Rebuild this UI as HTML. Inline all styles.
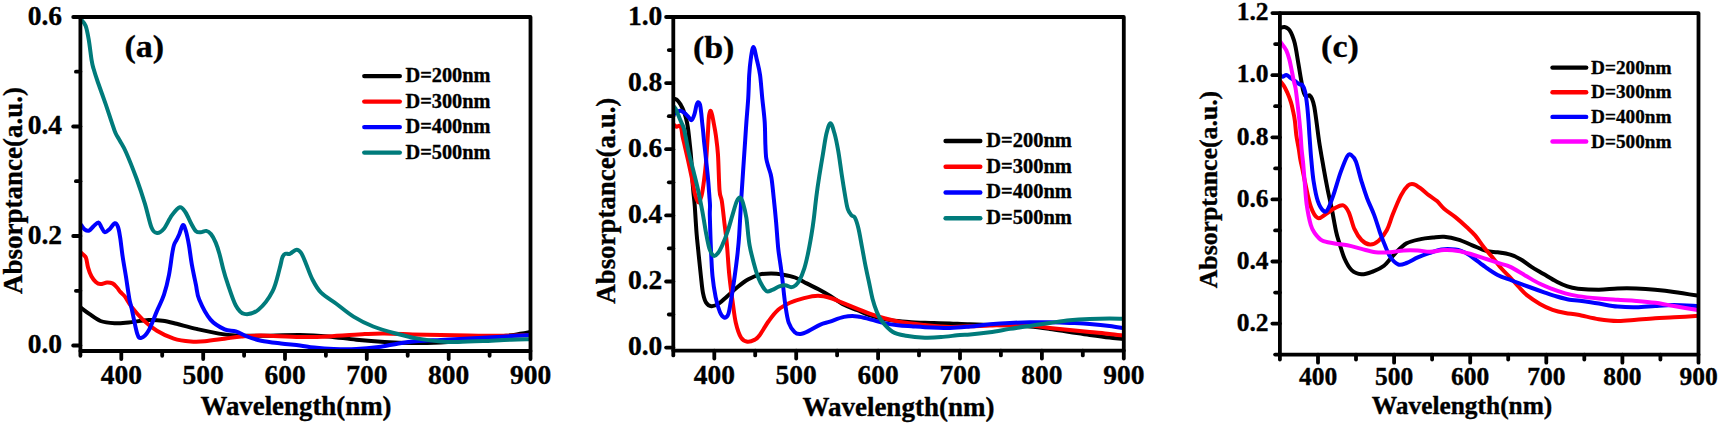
<!DOCTYPE html>
<html><head><meta charset="utf-8"><title>Absorptance spectra</title>
<style>html,body{margin:0;padding:0;background:#fff;}svg{display:block;}</style></head>
<body><svg width="1720" height="426" viewBox="0 0 1720 426">
<rect width="1720" height="426" fill="#fff"/>
<clipPath id="clipa"><rect x="80.4" y="17.0" width="450.1" height="334.0"/></clipPath>
<g clip-path="url(#clipa)" fill="none" stroke-width="4.0" stroke-linejoin="round" stroke-linecap="round">
<path d="M80.8,307.7C82.2,308.7 86.0,311.7 89.3,313.9C92.6,316.1 96.3,319.4 100.5,321.0C104.7,322.6 109.9,323.0 114.6,323.2C119.3,323.4 123.0,322.9 128.7,322.4C134.3,321.9 142.8,320.4 148.5,320.1C154.2,319.8 157.9,320.1 162.6,320.7C167.3,321.3 171.0,322.4 176.6,323.8C182.2,325.2 189.3,327.3 196.4,328.9C203.5,330.5 212.3,332.5 218.9,333.6C225.5,334.7 229.0,335.2 235.8,335.6C242.7,336.0 249.3,335.9 260.0,335.8C270.7,335.7 288.6,334.9 300.0,335.0C311.4,335.1 318.8,335.6 328.2,336.4C337.6,337.2 346.9,338.8 356.3,339.7C365.7,340.6 375.1,341.4 384.5,342.0C393.9,342.6 403.2,343.0 412.6,343.1C422.0,343.2 431.4,342.9 440.8,342.5C450.2,342.1 459.6,341.5 469.0,340.6C478.4,339.7 489.6,337.8 497.1,336.9C504.6,335.9 508.4,335.7 514.0,334.9C519.6,334.1 528.2,332.5 531.0,332.0" stroke="#000000"/>
<path d="M81.3,252.9C82.0,253.7 84.7,255.0 85.8,257.4C86.9,259.8 87.1,264.2 88.0,267.4C88.9,270.5 90.1,273.9 91.4,276.3C92.7,278.7 94.3,280.6 95.8,281.9C97.3,283.2 98.4,284.0 100.3,284.1C102.2,284.2 105.0,282.6 107.0,282.5C109.0,282.4 110.8,282.6 112.5,283.4C114.2,284.2 115.7,286.1 117.0,287.5C118.3,288.9 119.0,290.4 120.3,291.9C121.6,293.4 122.9,293.9 124.8,296.4C126.7,298.9 128.6,303.0 131.6,306.9C134.6,310.8 138.6,315.6 142.8,319.6C147.0,323.6 151.7,327.6 156.9,330.8C162.1,334.0 168.2,336.9 173.8,338.7C179.4,340.5 185.5,341.1 190.7,341.5C195.9,341.9 199.2,341.8 204.8,341.3C210.5,340.8 218.5,339.5 224.6,338.7C230.7,337.9 235.4,337.0 241.5,336.5C247.6,336.0 251.4,335.5 261.2,335.6C270.9,335.7 288.8,336.8 300.0,336.9C311.2,337.0 317.4,336.9 328.2,336.4C339.0,335.9 355.4,334.6 364.8,334.1C374.2,333.6 376.5,333.4 384.5,333.5C392.5,333.6 403.2,334.1 412.6,334.4C422.0,334.6 431.4,334.8 440.8,335.0C450.2,335.2 459.6,335.4 469.0,335.5C478.4,335.6 486.8,335.9 497.1,335.8C507.4,335.8 525.4,335.3 531.0,335.2" stroke="#ff0000"/>
<path d="M81.3,225.1C81.9,225.8 83.4,228.6 84.7,229.5C86.0,230.4 87.6,231.2 89.1,230.6C90.6,230.0 92.0,227.6 93.6,226.2C95.2,224.8 97.2,222.2 98.5,222.4C99.8,222.6 100.4,225.7 101.4,227.3C102.4,228.9 103.4,231.8 104.7,232.2C106.0,232.6 107.5,231.0 109.2,229.5C110.9,228.0 113.3,223.7 114.8,223.3C116.3,222.9 117.2,224.8 118.1,227.3C119.0,229.8 119.5,233.6 120.3,238.4C121.0,243.2 121.7,250.0 122.6,256.3C123.5,262.6 124.8,269.2 125.9,276.3C127.0,283.4 128.4,293.3 129.3,298.6C130.2,303.9 130.3,302.5 131.6,308.3C132.9,314.1 135.6,328.7 137.2,333.6C138.8,338.5 139.5,338.4 141.4,337.9C143.3,337.4 145.9,335.3 148.5,330.8C151.1,326.3 154.3,317.1 156.9,311.1C159.5,305.1 162.0,300.8 164.0,294.7C166.0,288.6 167.7,281.4 169.0,274.8C170.3,268.2 171.2,259.8 172.0,254.8C172.8,249.8 173.2,247.5 174.0,245.0C174.8,242.5 175.6,241.8 176.5,240.0C177.4,238.2 178.1,237.0 179.2,234.5C180.3,232.0 181.8,225.6 182.9,225.0C184.0,224.4 184.9,227.7 185.9,231.0C186.9,234.3 187.9,239.3 188.9,244.9C189.9,250.5 190.7,258.2 191.9,264.8C193.1,271.4 194.7,278.9 195.9,284.7C197.1,290.5 196.8,293.7 199.2,299.5C201.6,305.3 206.3,314.6 210.5,319.6C214.7,324.6 220.4,327.4 224.6,329.4C228.8,331.4 232.1,330.2 235.8,331.4C239.6,332.6 242.9,334.9 247.1,336.5C251.3,338.1 255.6,339.5 261.2,340.7C266.8,341.9 274.4,342.7 280.9,343.5C287.4,344.3 294.5,344.7 300.0,345.4C305.5,346.1 308.5,347.0 314.1,347.6C319.7,348.2 326.8,348.8 333.8,349.0C340.8,349.2 348.8,349.3 356.3,349.0C363.8,348.7 371.8,347.9 378.8,347.0C385.8,346.1 391.9,344.4 398.5,343.4C405.1,342.4 411.1,341.7 418.2,341.1C425.2,340.5 432.3,340.4 440.8,340.0C449.3,339.6 459.6,339.1 469.0,338.6C478.4,338.1 486.8,337.5 497.1,336.9C507.4,336.3 525.4,335.2 531.0,334.9" stroke="#0000ff"/>
<path d="M81.0,19.5C81.8,20.5 84.3,22.4 85.6,25.7C86.9,29.0 87.7,33.6 88.7,39.4C89.7,45.2 90.9,55.9 91.7,60.7C92.5,65.5 92.5,65.0 93.5,68.5C94.5,72.0 95.8,76.2 97.8,82.0C99.8,87.8 103.1,96.7 105.4,103.3C107.7,109.9 109.8,116.6 111.5,121.6C113.2,126.5 114.1,129.8 115.5,133.0C116.9,136.2 118.3,137.8 120.0,141.0C121.7,144.2 123.1,145.7 125.9,152.0C128.7,158.3 133.5,170.4 136.7,179.0C139.8,187.6 142.3,195.2 144.8,203.3C147.3,211.4 149.5,222.7 151.5,227.6C153.5,232.5 155.0,232.8 157.0,233.0C159.0,233.2 161.2,231.9 163.7,229.0C166.2,226.1 169.1,219.0 171.8,215.4C174.5,211.8 177.6,207.8 179.9,207.3C182.2,206.8 183.7,209.8 185.6,212.5C187.5,215.2 189.6,220.7 191.3,223.8C193.0,226.9 194.4,229.9 196.0,231.3C197.6,232.7 199.0,232.4 200.7,232.3C202.4,232.2 204.6,230.6 206.3,230.9C208.0,231.2 209.4,232.2 211.0,234.1C212.6,236.0 214.3,239.3 215.7,242.6C217.1,245.9 218.2,249.4 219.4,253.8C220.7,258.2 221.9,264.0 223.2,268.9C224.5,273.8 225.3,276.8 227.4,282.9C229.5,289.0 233.0,300.3 235.8,305.5C238.6,310.7 240.5,313.2 244.3,313.9C248.1,314.6 253.7,313.4 258.4,309.7C263.1,305.9 269.0,298.2 272.5,291.4C276.0,284.6 277.9,274.6 279.5,269.0C281.1,263.4 281.4,260.1 282.3,257.6C283.2,255.1 283.9,254.4 285.2,253.8C286.5,253.2 288.0,254.5 289.9,253.8C291.8,253.1 294.5,249.8 296.4,249.7C298.3,249.5 299.5,250.7 301.1,252.9C302.7,255.2 303.9,258.7 305.8,263.2C307.7,267.7 310.1,275.1 312.7,280.0C315.2,284.9 317.1,288.7 321.1,292.7C325.1,296.7 331.2,300.0 336.6,304.0C342.0,308.0 347.4,312.9 353.5,316.6C359.6,320.4 366.2,323.7 373.2,326.5C380.2,329.3 388.2,331.5 395.7,333.5C403.2,335.5 410.7,337.3 418.2,338.6C425.7,339.9 434.2,340.8 440.8,341.4C447.4,342.0 450.7,342.1 457.7,342.0C464.7,341.9 474.1,341.5 483.0,341.1C491.9,340.7 503.1,340.0 511.1,339.7C519.1,339.4 527.7,339.3 531.0,339.2" stroke="#007b7b"/>
</g>
<rect x="80.4" y="17.0" width="450.1" height="334.0" fill="none" stroke="#000" stroke-width="3.8" stroke-linejoin="round"/>
<g stroke="#000" stroke-width="3.8" stroke-linecap="round"><line x1="73.2" y1="345.5" x2="80.4" y2="345.5"/><line x1="75.9" y1="290.8" x2="80.4" y2="290.8"/><line x1="73.2" y1="236.0" x2="80.4" y2="236.0"/><line x1="75.9" y1="181.2" x2="80.4" y2="181.2"/><line x1="73.2" y1="126.5" x2="80.4" y2="126.5"/><line x1="75.9" y1="71.7" x2="80.4" y2="71.7"/><line x1="73.2" y1="17.0" x2="80.4" y2="17.0"/><line x1="80.4" y1="351.0" x2="80.4" y2="355.8"/><line x1="121.3" y1="351.0" x2="121.3" y2="359.0"/><line x1="162.2" y1="351.0" x2="162.2" y2="355.8"/><line x1="203.2" y1="351.0" x2="203.2" y2="359.0"/><line x1="244.1" y1="351.0" x2="244.1" y2="355.8"/><line x1="285.0" y1="351.0" x2="285.0" y2="359.0"/><line x1="325.9" y1="351.0" x2="325.9" y2="355.8"/><line x1="366.8" y1="351.0" x2="366.8" y2="359.0"/><line x1="407.7" y1="351.0" x2="407.7" y2="355.8"/><line x1="448.7" y1="351.0" x2="448.7" y2="359.0"/><line x1="489.6" y1="351.0" x2="489.6" y2="355.8"/><line x1="530.5" y1="351.0" x2="530.5" y2="359.0"/></g>
<text x="62.0" y="353.3" text-anchor="end" style="font-family:'Liberation Serif','Times New Roman',serif;font-weight:bold;stroke:#000;stroke-width:0.35px;font-size:27.5px">0.0</text>
<text x="62.0" y="243.8" text-anchor="end" style="font-family:'Liberation Serif','Times New Roman',serif;font-weight:bold;stroke:#000;stroke-width:0.35px;font-size:27.5px">0.2</text>
<text x="62.0" y="134.3" text-anchor="end" style="font-family:'Liberation Serif','Times New Roman',serif;font-weight:bold;stroke:#000;stroke-width:0.35px;font-size:27.5px">0.4</text>
<text x="62.0" y="24.8" text-anchor="end" style="font-family:'Liberation Serif','Times New Roman',serif;font-weight:bold;stroke:#000;stroke-width:0.35px;font-size:27.5px">0.6</text>
<text x="121.3" y="383.5" text-anchor="middle" style="font-family:'Liberation Serif','Times New Roman',serif;font-weight:bold;stroke:#000;stroke-width:0.35px;font-size:27.5px">400</text>
<text x="203.2" y="383.5" text-anchor="middle" style="font-family:'Liberation Serif','Times New Roman',serif;font-weight:bold;stroke:#000;stroke-width:0.35px;font-size:27.5px">500</text>
<text x="285.0" y="383.5" text-anchor="middle" style="font-family:'Liberation Serif','Times New Roman',serif;font-weight:bold;stroke:#000;stroke-width:0.35px;font-size:27.5px">600</text>
<text x="366.8" y="383.5" text-anchor="middle" style="font-family:'Liberation Serif','Times New Roman',serif;font-weight:bold;stroke:#000;stroke-width:0.35px;font-size:27.5px">700</text>
<text x="448.7" y="383.5" text-anchor="middle" style="font-family:'Liberation Serif','Times New Roman',serif;font-weight:bold;stroke:#000;stroke-width:0.35px;font-size:27.5px">800</text>
<text x="530.5" y="383.5" text-anchor="middle" style="font-family:'Liberation Serif','Times New Roman',serif;font-weight:bold;stroke:#000;stroke-width:0.35px;font-size:27.5px">900</text>
<text x="200.5" y="414.5" style="font-family:'Liberation Serif','Times New Roman',serif;font-weight:bold;stroke:#000;stroke-width:0.35px;font-size:27px" textLength="191" lengthAdjust="spacingAndGlyphs">Wavelength(nm)</text>
<text transform="translate(22.3,294.0) rotate(-90)" x="0" y="0" style="font-family:'Liberation Serif','Times New Roman',serif;font-weight:bold;stroke:#000;stroke-width:0.35px;font-size:27px" textLength="207" lengthAdjust="spacingAndGlyphs">Absorptance(a.u.)</text>
<text transform="translate(124.5,57.3) scale(1,0.92)" x="0" y="0" style="font-family:'Liberation Serif','Times New Roman',serif;font-weight:bold;stroke:#000;stroke-width:0.35px;font-size:34px">(a)</text>
<line x1="364.3" y1="76.1" x2="399.8" y2="76.1" stroke="#000000" stroke-width="4.4" stroke-linecap="round"/>
<text x="405.5" y="82.3" style="font-family:'Liberation Serif','Times New Roman',serif;font-weight:bold;stroke:#000;stroke-width:0.35px;font-size:20.5px" textLength="85" lengthAdjust="spacingAndGlyphs">D=200nm</text>
<line x1="364.3" y1="101.6" x2="399.8" y2="101.6" stroke="#ff0000" stroke-width="4.4" stroke-linecap="round"/>
<text x="405.5" y="107.8" style="font-family:'Liberation Serif','Times New Roman',serif;font-weight:bold;stroke:#000;stroke-width:0.35px;font-size:20.5px" textLength="85" lengthAdjust="spacingAndGlyphs">D=300nm</text>
<line x1="364.3" y1="127.1" x2="399.8" y2="127.1" stroke="#0000ff" stroke-width="4.4" stroke-linecap="round"/>
<text x="405.5" y="133.3" style="font-family:'Liberation Serif','Times New Roman',serif;font-weight:bold;stroke:#000;stroke-width:0.35px;font-size:20.5px" textLength="85" lengthAdjust="spacingAndGlyphs">D=400nm</text>
<line x1="364.3" y1="152.6" x2="399.8" y2="152.6" stroke="#007b7b" stroke-width="4.4" stroke-linecap="round"/>
<text x="405.5" y="158.8" style="font-family:'Liberation Serif','Times New Roman',serif;font-weight:bold;stroke:#000;stroke-width:0.35px;font-size:20.5px" textLength="85" lengthAdjust="spacingAndGlyphs">D=500nm</text>
<clipPath id="clipb"><rect x="673.3" y="17.0" width="450.5" height="333.6"/></clipPath>
<g clip-path="url(#clipb)" fill="none" stroke-width="4.0" stroke-linejoin="round" stroke-linecap="round">
<path d="M673.5,98.9C673.7,98.9 674.0,98.7 674.7,98.9C675.4,99.1 676.6,99.4 677.5,100.3C678.4,101.2 679.3,102.5 680.3,104.1C681.2,105.7 682.2,107.3 683.2,109.7C684.2,112.1 685.2,115.2 686.0,118.2C686.8,121.2 687.2,123.0 687.9,127.6C688.6,132.2 689.4,140.6 690.0,146.0C690.6,151.4 690.9,154.6 691.3,160.0C691.7,165.4 692.0,173.5 692.3,178.5C692.6,183.5 692.8,185.3 693.2,190.0C693.6,194.7 694.3,199.6 694.8,206.4C695.3,213.2 695.8,223.0 696.4,231.1C697.0,239.2 698.0,247.5 698.7,255.0C699.5,262.5 700.2,269.8 700.9,276.1C701.6,282.5 702.1,288.7 703.0,293.1C703.9,297.5 704.7,300.4 706.1,302.6C707.5,304.8 709.3,306.0 711.4,306.2C713.5,306.4 716.1,305.3 718.8,303.6C721.4,301.9 724.1,299.0 727.3,296.2C730.5,293.4 734.4,289.5 737.9,286.7C741.4,283.9 744.8,281.3 748.4,279.3C752.0,277.3 755.6,275.6 759.4,274.6C763.2,273.6 767.2,273.5 771.1,273.5C775.0,273.5 778.8,273.9 782.8,274.6C786.8,275.3 791.0,276.0 795.0,277.5C799.0,279.0 802.8,281.4 806.7,283.4C810.6,285.4 814.6,287.2 818.5,289.3C822.4,291.4 826.0,293.4 830.2,296.0C834.5,298.6 839.5,302.4 844.0,304.8C848.5,307.2 853.0,308.4 857.5,310.2C862.0,312.0 866.5,314.1 871.0,315.6C875.5,317.1 879.9,318.2 884.4,319.1C888.9,320.0 893.4,320.5 897.9,321.0C902.4,321.5 906.9,322.0 911.4,322.3C915.9,322.6 918.5,322.6 924.9,322.8C931.3,323.0 942.5,323.2 950.0,323.5C957.5,323.8 963.4,324.1 970.0,324.3C976.6,324.5 983.2,324.7 989.9,324.9C996.5,325.1 1003.2,325.2 1009.9,325.5C1016.5,325.8 1023.1,325.9 1029.8,326.5C1036.5,327.1 1043.1,328.0 1049.8,328.9C1056.5,329.8 1063.0,330.9 1069.7,331.9C1076.4,332.9 1083.1,334.0 1089.7,334.9C1096.3,335.8 1103.7,336.8 1109.6,337.5C1115.5,338.2 1122.4,338.9 1125.0,339.2" stroke="#000000"/>
<path d="M673.8,124.8C674.3,125.1 675.7,126.5 676.6,126.7C677.5,126.9 678.6,125.4 679.4,125.7C680.2,126.0 680.8,126.8 681.3,128.5C681.8,130.2 681.9,132.9 682.5,136.0C683.1,139.1 684.1,143.0 685.0,147.0C685.9,151.0 687.0,155.5 688.0,160.0C689.0,164.5 690.1,169.9 691.0,174.0C691.9,178.1 692.5,181.2 693.2,184.8C693.9,188.4 694.4,192.5 695.3,195.4C696.2,198.3 697.5,202.5 698.5,202.5C699.5,202.5 700.7,198.7 701.6,195.4C702.5,192.1 703.0,188.0 703.7,182.7C704.4,177.4 705.2,171.6 705.9,163.7C706.6,155.8 707.3,142.6 707.8,135.0C708.3,127.4 708.4,122.0 708.8,118.0C709.2,114.0 709.9,111.5 710.4,110.9C710.9,110.3 711.4,112.4 712.0,114.5C712.6,116.6 713.2,120.1 713.8,123.5C714.4,126.9 715.1,129.8 715.8,135.0C716.5,140.2 717.4,145.8 718.0,155.0C718.6,164.2 718.9,182.2 719.5,190.0C720.1,197.8 721.1,196.0 721.9,201.5C722.7,207.0 723.6,215.8 724.4,222.9C725.2,230.0 726.1,235.3 726.9,244.2C727.7,253.1 728.4,266.6 729.4,276.1C730.4,285.7 731.5,293.7 732.6,301.5C733.7,309.3 734.4,316.7 735.8,322.7C737.2,328.7 739.1,334.3 741.0,337.5C742.9,340.7 745.1,341.3 747.4,341.7C749.7,342.1 753.0,340.6 755.0,339.6C757.0,338.6 757.1,338.6 759.4,335.5C761.7,332.4 765.7,325.3 768.8,321.0C771.9,316.7 774.7,312.8 778.2,309.8C781.7,306.8 785.6,304.8 789.9,302.8C794.2,300.9 799.3,299.3 804.0,298.1C808.7,296.9 813.6,295.7 818.0,295.7C822.4,295.7 826.2,296.7 830.5,298.0C834.8,299.3 839.5,301.6 844.0,303.4C848.5,305.2 853.0,307.0 857.5,308.8C862.0,310.6 866.5,312.6 871.0,314.2C875.5,315.8 879.9,317.1 884.4,318.3C888.9,319.5 893.4,320.6 897.9,321.5C902.4,322.4 906.9,323.0 911.4,323.6C915.9,324.2 918.5,324.4 924.9,325.0C931.3,325.6 942.5,326.7 950.0,326.9C957.5,327.1 963.4,326.5 970.0,326.3C976.6,326.1 983.2,325.7 989.9,325.5C996.5,325.3 1003.2,324.9 1009.9,324.9C1016.5,324.9 1023.1,325.0 1029.8,325.5C1036.5,326.0 1043.1,327.2 1049.8,327.9C1056.5,328.6 1063.0,329.2 1069.7,329.9C1076.4,330.6 1083.1,331.2 1089.7,331.9C1096.3,332.6 1103.7,333.2 1109.6,333.9C1115.5,334.5 1122.4,335.5 1125.0,335.8" stroke="#ff0000"/>
<path d="M673.8,114.4C674.3,114.0 675.9,112.7 677.0,112.1C678.1,111.5 679.1,110.6 680.3,110.7C681.5,110.8 682.7,111.5 684.1,112.6C685.5,113.7 687.5,116.0 688.8,117.3C690.0,118.5 690.7,120.6 691.6,120.1C692.5,119.6 693.6,116.8 694.4,114.4C695.2,112.1 695.7,108.0 696.3,106.0C696.9,104.0 697.6,102.4 698.2,102.2C698.8,102.0 699.6,103.1 700.1,105.0C700.6,106.9 700.9,110.5 701.3,113.5C701.6,116.5 701.9,120.2 702.2,122.9C702.5,125.7 702.7,127.2 703.0,130.0C703.3,132.8 703.6,136.7 703.9,140.0C704.2,143.3 704.6,146.5 705.0,150.0C705.4,153.5 705.7,156.2 706.2,161.0C706.7,165.8 707.5,172.8 708.0,178.5C708.5,184.2 709.0,190.6 709.3,195.0C709.6,199.4 709.9,201.7 710.0,205.0C710.1,208.3 709.7,210.0 709.8,215.0C709.9,220.0 710.2,228.3 710.4,235.0C710.6,241.7 710.9,248.2 711.2,255.0C711.6,261.9 711.8,269.1 712.5,276.1C713.2,283.2 714.5,291.3 715.7,297.3C716.9,303.3 718.5,308.7 719.9,312.1C721.3,315.5 722.7,317.1 724.1,317.5C725.5,317.9 727.1,317.6 728.3,314.2C729.5,310.8 730.4,303.6 731.5,297.3C732.6,291.0 733.7,283.2 734.7,276.1C735.7,269.1 736.6,261.9 737.4,255.0C738.1,248.2 738.6,244.2 739.2,235.0C739.8,225.8 740.5,211.1 741.2,199.9C741.9,188.7 742.6,178.0 743.3,168.0C744.0,158.0 744.7,147.7 745.2,140.0C745.7,132.3 745.9,128.9 746.4,122.0C746.9,115.1 747.7,106.4 748.2,98.6C748.7,90.8 748.8,81.8 749.2,75.2C749.6,68.6 750.1,63.4 750.8,58.7C751.5,54.0 752.4,47.0 753.4,47.0C754.4,47.0 755.5,54.0 756.6,58.7C757.7,63.4 759.2,68.6 760.1,75.2C761.0,81.8 761.5,90.8 762.3,98.6C763.1,106.4 764.2,114.3 764.7,122.0C765.2,129.7 765.1,139.0 765.4,145.0C765.6,151.0 765.7,154.2 766.2,158.0C766.7,161.8 767.7,164.2 768.6,167.5C769.5,170.8 770.5,172.4 771.4,177.6C772.3,182.8 773.0,191.3 773.8,198.7C774.6,206.1 775.5,215.3 776.1,222.2C776.7,229.1 777.1,235.1 777.5,240.0C777.9,244.9 777.9,246.1 778.6,251.7C779.3,257.3 780.6,264.8 781.7,273.5C782.8,282.2 784.0,295.8 785.2,304.0C786.4,312.2 787.1,318.0 788.7,322.7C790.3,327.4 792.7,330.2 794.6,332.1C796.5,334.0 798.0,334.2 800.4,334.0C802.8,333.8 805.4,332.5 808.7,330.9C812.0,329.3 816.9,326.2 820.4,324.6C823.9,323.1 826.1,322.9 830.0,321.6C833.9,320.3 839.4,317.8 844.0,316.9C848.6,316.0 853.0,315.9 857.5,316.4C862.0,316.8 866.5,318.5 871.0,319.6C875.5,320.7 879.9,322.2 884.4,323.1C888.9,324.1 893.4,324.8 897.9,325.3C902.4,325.8 906.9,326.0 911.4,326.3C915.9,326.6 918.5,326.9 924.9,327.2C931.3,327.5 942.5,328.0 950.0,327.9C957.5,327.8 963.4,327.1 970.0,326.5C976.6,325.9 983.2,324.9 989.9,324.3C996.5,323.7 1003.2,323.2 1009.9,322.9C1016.5,322.6 1023.1,322.4 1029.8,322.3C1036.5,322.2 1043.1,322.2 1049.8,322.3C1056.5,322.4 1063.0,322.6 1069.7,322.9C1076.4,323.2 1083.1,323.4 1089.7,323.9C1096.3,324.4 1103.7,325.1 1109.6,325.9C1115.5,326.7 1122.4,328.1 1125.0,328.5" stroke="#0000ff"/>
<path d="M673.8,106.4C674.1,106.8 674.9,107.5 675.6,108.8C676.3,110.1 677.2,112.5 678.0,114.4C678.8,116.3 679.4,117.9 680.3,120.1C681.2,122.3 682.7,124.8 683.6,127.5C684.5,130.2 684.7,132.2 685.6,136.5C686.5,140.8 687.6,147.5 688.9,153.1C690.2,158.7 691.8,164.3 693.2,170.0C694.6,175.7 696.0,180.9 697.4,187.0C698.8,193.1 700.3,201.0 701.4,206.4C702.5,211.8 703.0,214.9 703.8,219.6C704.6,224.3 705.3,229.5 706.3,234.4C707.3,239.3 708.4,245.6 709.6,249.2C710.8,252.8 712.3,255.1 713.7,255.8C715.1,256.5 716.3,255.2 717.8,253.3C719.3,251.4 721.1,247.9 722.7,244.2C724.4,240.5 726.1,236.0 727.7,231.1C729.4,226.2 731.1,219.6 732.6,214.7C734.1,209.8 735.4,204.3 736.7,201.5C738.0,198.7 739.2,197.3 740.2,197.6C741.2,197.8 742.0,199.6 743.0,203.0C744.0,206.4 745.3,210.9 746.4,218.0C747.5,225.1 748.0,236.5 749.6,245.3C751.2,254.1 754.1,264.4 755.9,270.7C757.7,276.9 758.9,279.4 760.6,282.8C762.4,286.2 764.5,289.9 766.4,291.1C768.3,292.3 770.1,290.7 772.3,289.9C774.4,289.1 777.1,287.2 779.3,286.4C781.4,285.6 783.2,285.1 785.2,285.2C787.2,285.3 789.4,287.2 791.1,287.2C792.9,287.2 794.3,286.4 795.7,285.2C797.1,284.0 798.2,282.8 799.7,279.9C801.2,277.0 803.0,272.4 804.4,268.1C805.8,263.8 806.7,259.5 807.9,254.0C809.1,248.5 810.4,241.1 811.4,235.2C812.4,229.3 813.0,225.2 813.8,218.8C814.6,212.4 815.4,204.1 816.3,197.0C817.2,189.9 818.2,183.0 819.3,176.0C820.4,169.0 821.6,161.9 822.8,154.9C824.0,147.9 825.1,139.1 826.4,133.8C827.7,128.5 829.0,123.2 830.4,123.2C831.8,123.2 833.3,129.3 834.6,133.8C835.9,138.3 836.9,143.5 838.1,150.2C839.3,156.8 840.4,165.7 841.6,173.7C842.8,181.7 844.5,192.1 845.5,198.0C846.5,203.9 846.9,206.5 847.9,209.4C848.9,212.3 850.2,213.9 851.4,215.3C852.6,216.7 853.7,215.4 854.9,217.6C856.1,219.8 857.2,223.3 858.4,228.2C859.6,233.1 860.8,240.7 862.0,247.0C863.2,253.3 864.3,259.9 865.5,265.8C866.7,271.7 867.8,276.7 869.0,282.2C870.2,287.7 871.2,293.9 872.5,298.7C873.8,303.5 875.0,307.3 876.5,311.0C878.0,314.7 879.0,317.6 881.7,321.0C884.4,324.4 888.5,329.2 892.5,331.7C896.5,334.2 900.6,334.8 906.0,335.8C911.4,336.8 919.0,337.5 924.9,337.7C930.8,337.9 935.2,337.6 941.1,337.1C947.0,336.7 955.2,335.4 960.0,335.0C964.8,334.6 965.0,334.9 970.0,334.5C975.0,334.1 983.2,333.2 989.9,332.3C996.5,331.4 1003.2,330.0 1009.9,328.9C1016.5,327.8 1023.1,326.9 1029.8,325.9C1036.5,324.9 1043.1,323.8 1049.8,322.9C1056.5,322.0 1063.0,321.0 1069.7,320.3C1076.4,319.6 1083.1,319.2 1089.7,318.9C1096.3,318.6 1103.7,318.5 1109.6,318.5C1115.5,318.5 1122.4,318.8 1125.0,318.9" stroke="#007b7b"/>
</g>
<rect x="673.3" y="17.0" width="450.5" height="333.6" fill="none" stroke="#000" stroke-width="3.8" stroke-linejoin="round"/>
<g stroke="#000" stroke-width="3.8" stroke-linecap="round"><line x1="666.1" y1="347.6" x2="673.3" y2="347.6"/><line x1="668.8" y1="314.5" x2="673.3" y2="314.5"/><line x1="666.1" y1="281.5" x2="673.3" y2="281.5"/><line x1="668.8" y1="248.4" x2="673.3" y2="248.4"/><line x1="666.1" y1="215.4" x2="673.3" y2="215.4"/><line x1="668.8" y1="182.3" x2="673.3" y2="182.3"/><line x1="666.1" y1="149.2" x2="673.3" y2="149.2"/><line x1="668.8" y1="116.2" x2="673.3" y2="116.2"/><line x1="666.1" y1="83.1" x2="673.3" y2="83.1"/><line x1="668.8" y1="50.1" x2="673.3" y2="50.1"/><line x1="666.1" y1="17.0" x2="673.3" y2="17.0"/><line x1="673.3" y1="350.6" x2="673.3" y2="355.4"/><line x1="714.3" y1="350.6" x2="714.3" y2="358.6"/><line x1="755.2" y1="350.6" x2="755.2" y2="355.4"/><line x1="796.2" y1="350.6" x2="796.2" y2="358.6"/><line x1="837.1" y1="350.6" x2="837.1" y2="355.4"/><line x1="878.1" y1="350.6" x2="878.1" y2="358.6"/><line x1="919.0" y1="350.6" x2="919.0" y2="355.4"/><line x1="960.0" y1="350.6" x2="960.0" y2="358.6"/><line x1="1000.9" y1="350.6" x2="1000.9" y2="355.4"/><line x1="1041.9" y1="350.6" x2="1041.9" y2="358.6"/><line x1="1082.8" y1="350.6" x2="1082.8" y2="355.4"/><line x1="1123.8" y1="350.6" x2="1123.8" y2="358.6"/></g>
<text x="662.3" y="355.3" text-anchor="end" style="font-family:'Liberation Serif','Times New Roman',serif;font-weight:bold;stroke:#000;stroke-width:0.35px;font-size:27.5px">0.0</text>
<text x="662.3" y="289.2" text-anchor="end" style="font-family:'Liberation Serif','Times New Roman',serif;font-weight:bold;stroke:#000;stroke-width:0.35px;font-size:27.5px">0.2</text>
<text x="662.3" y="223.1" text-anchor="end" style="font-family:'Liberation Serif','Times New Roman',serif;font-weight:bold;stroke:#000;stroke-width:0.35px;font-size:27.5px">0.4</text>
<text x="662.3" y="156.9" text-anchor="end" style="font-family:'Liberation Serif','Times New Roman',serif;font-weight:bold;stroke:#000;stroke-width:0.35px;font-size:27.5px">0.6</text>
<text x="662.3" y="90.8" text-anchor="end" style="font-family:'Liberation Serif','Times New Roman',serif;font-weight:bold;stroke:#000;stroke-width:0.35px;font-size:27.5px">0.8</text>
<text x="662.3" y="24.7" text-anchor="end" style="font-family:'Liberation Serif','Times New Roman',serif;font-weight:bold;stroke:#000;stroke-width:0.35px;font-size:27.5px">1.0</text>
<text x="714.3" y="383.5" text-anchor="middle" style="font-family:'Liberation Serif','Times New Roman',serif;font-weight:bold;stroke:#000;stroke-width:0.35px;font-size:27.5px">400</text>
<text x="796.2" y="383.5" text-anchor="middle" style="font-family:'Liberation Serif','Times New Roman',serif;font-weight:bold;stroke:#000;stroke-width:0.35px;font-size:27.5px">500</text>
<text x="878.1" y="383.5" text-anchor="middle" style="font-family:'Liberation Serif','Times New Roman',serif;font-weight:bold;stroke:#000;stroke-width:0.35px;font-size:27.5px">600</text>
<text x="960.0" y="383.5" text-anchor="middle" style="font-family:'Liberation Serif','Times New Roman',serif;font-weight:bold;stroke:#000;stroke-width:0.35px;font-size:27.5px">700</text>
<text x="1041.9" y="383.5" text-anchor="middle" style="font-family:'Liberation Serif','Times New Roman',serif;font-weight:bold;stroke:#000;stroke-width:0.35px;font-size:27.5px">800</text>
<text x="1123.8" y="383.5" text-anchor="middle" style="font-family:'Liberation Serif','Times New Roman',serif;font-weight:bold;stroke:#000;stroke-width:0.35px;font-size:27.5px">900</text>
<text x="802.4" y="415.8" style="font-family:'Liberation Serif','Times New Roman',serif;font-weight:bold;stroke:#000;stroke-width:0.35px;font-size:27px" textLength="192" lengthAdjust="spacingAndGlyphs">Wavelength(nm)</text>
<text transform="translate(615.4,303.7) rotate(-90)" x="0" y="0" style="font-family:'Liberation Serif','Times New Roman',serif;font-weight:bold;stroke:#000;stroke-width:0.35px;font-size:27px" textLength="206" lengthAdjust="spacingAndGlyphs">Absorptance(a.u.)</text>
<text transform="translate(692.9,58.2) scale(1,0.92)" x="0" y="0" style="font-family:'Liberation Serif','Times New Roman',serif;font-weight:bold;stroke:#000;stroke-width:0.35px;font-size:34px">(b)</text>
<line x1="945.6" y1="141.0" x2="980.3" y2="141.0" stroke="#000000" stroke-width="4.4" stroke-linecap="round"/>
<text x="986.3" y="146.9" style="font-family:'Liberation Serif','Times New Roman',serif;font-weight:bold;stroke:#000;stroke-width:0.35px;font-size:20.5px" textLength="85.5" lengthAdjust="spacingAndGlyphs">D=200nm</text>
<line x1="945.6" y1="166.7" x2="980.3" y2="166.7" stroke="#ff0000" stroke-width="4.4" stroke-linecap="round"/>
<text x="986.3" y="172.6" style="font-family:'Liberation Serif','Times New Roman',serif;font-weight:bold;stroke:#000;stroke-width:0.35px;font-size:20.5px" textLength="85.5" lengthAdjust="spacingAndGlyphs">D=300nm</text>
<line x1="945.6" y1="192.5" x2="980.3" y2="192.5" stroke="#0000ff" stroke-width="4.4" stroke-linecap="round"/>
<text x="986.3" y="198.4" style="font-family:'Liberation Serif','Times New Roman',serif;font-weight:bold;stroke:#000;stroke-width:0.35px;font-size:20.5px" textLength="85.5" lengthAdjust="spacingAndGlyphs">D=400nm</text>
<line x1="945.6" y1="218.2" x2="980.3" y2="218.2" stroke="#007b7b" stroke-width="4.4" stroke-linecap="round"/>
<text x="986.3" y="224.1" style="font-family:'Liberation Serif','Times New Roman',serif;font-weight:bold;stroke:#000;stroke-width:0.35px;font-size:20.5px" textLength="85.5" lengthAdjust="spacingAndGlyphs">D=500nm</text>
<clipPath id="clipc"><rect x="1279.9" y="13.1" width="418.5999999999999" height="341.59999999999997"/></clipPath>
<g clip-path="url(#clipc)" fill="none" stroke-width="4.0" stroke-linejoin="round" stroke-linecap="round">
<path d="M1279.5,28.5C1279.8,28.4 1280.2,27.9 1281.0,27.7C1281.8,27.4 1283.3,26.8 1284.5,27.0C1285.7,27.2 1287.1,27.9 1288.2,28.8C1289.3,29.7 1290.0,30.7 1291.0,32.6C1292.0,34.5 1293.1,37.6 1293.9,40.1C1294.7,42.6 1295.1,44.5 1295.7,47.6C1296.3,50.7 1297.0,55.1 1297.6,58.9C1298.2,62.7 1298.9,66.5 1299.5,70.2C1300.1,74.0 1300.8,78.1 1301.4,81.4C1302.0,84.7 1302.4,87.7 1303.0,90.0C1303.6,92.3 1304.2,94.5 1305.0,95.5C1305.8,96.5 1306.7,96.0 1307.5,96.0C1308.3,96.0 1308.8,95.0 1309.6,95.4C1310.3,95.9 1311.2,96.8 1312.0,98.7C1312.8,100.6 1313.5,102.8 1314.3,106.9C1315.1,111.0 1315.9,117.5 1316.7,123.3C1317.5,129.2 1318.1,134.7 1319.2,142.0C1320.3,149.3 1322.1,159.3 1323.5,167.3C1324.9,175.3 1326.3,182.8 1327.7,189.8C1329.1,196.8 1330.5,202.5 1331.9,209.5C1333.3,216.5 1335.0,226.6 1336.2,232.0C1337.4,237.4 1337.6,237.4 1339.0,241.9C1340.4,246.4 1342.5,254.1 1344.6,258.8C1346.7,263.5 1348.8,267.5 1351.6,270.1C1354.4,272.7 1358.0,274.1 1361.5,274.3C1365.0,274.5 1369.0,272.9 1372.8,271.5C1376.5,270.1 1380.2,268.9 1384.0,265.8C1387.8,262.8 1391.5,256.9 1395.3,253.2C1399.1,249.4 1402.4,245.7 1406.6,243.3C1410.8,241.0 1416.3,240.1 1420.7,239.1C1425.1,238.1 1429.1,237.9 1433.0,237.5C1436.9,237.1 1439.9,236.5 1444.1,236.8C1448.3,237.2 1453.5,238.2 1458.2,239.6C1462.9,241.0 1467.6,243.4 1472.3,245.3C1477.0,247.2 1482.1,249.7 1486.3,250.9C1490.5,252.1 1493.6,251.7 1497.6,252.3C1501.6,252.9 1506.4,253.5 1510.3,254.7C1514.2,255.9 1517.4,257.5 1520.9,259.5C1524.4,261.5 1527.6,264.4 1531.5,266.9C1535.4,269.4 1539.9,271.8 1544.1,274.3C1548.3,276.8 1552.9,279.7 1556.8,281.7C1560.7,283.7 1563.9,285.2 1567.4,286.4C1570.9,287.6 1572.8,288.1 1578.0,288.7C1583.2,289.2 1592.2,289.7 1598.8,289.7C1605.4,289.7 1611.3,288.7 1617.6,288.5C1623.8,288.3 1630.0,288.3 1636.3,288.5C1642.5,288.7 1648.8,289.1 1655.1,289.7C1661.4,290.3 1666.4,290.8 1673.9,291.9C1681.4,292.9 1695.7,295.3 1700.0,296.0" stroke="#000000"/>
<path d="M1279.8,80.5C1280.5,81.4 1282.6,83.8 1283.9,85.8C1285.2,87.8 1286.2,90.1 1287.4,92.8C1288.6,95.5 1289.9,99.1 1290.9,102.2C1291.9,105.3 1292.5,108.5 1293.2,111.6C1293.9,114.7 1294.4,117.0 1294.9,120.9C1295.4,124.8 1295.7,130.3 1296.3,135.0C1296.9,139.7 1298.1,145.0 1298.8,149.1C1299.5,153.2 1299.7,156.2 1300.4,159.8C1301.1,163.5 1302.0,167.1 1302.8,171.0C1303.6,174.9 1303.9,177.1 1305.2,183.0C1306.5,188.9 1308.7,200.9 1310.8,206.7C1312.9,212.5 1315.2,216.8 1317.8,218.0C1320.4,219.2 1323.5,215.3 1326.3,213.7C1329.1,212.0 1331.9,209.5 1334.7,208.1C1337.5,206.7 1340.9,204.6 1343.2,205.3C1345.5,206.0 1346.9,208.3 1348.8,212.3C1350.7,216.3 1352.4,224.6 1354.5,229.2C1356.6,233.8 1358.9,237.4 1361.5,240.0C1364.1,242.6 1367.2,244.3 1370.0,244.5C1372.8,244.7 1375.6,243.4 1378.4,241.0C1381.2,238.6 1384.6,234.3 1386.9,230.0C1389.2,225.7 1390.2,220.9 1392.5,215.1C1394.8,209.3 1398.4,200.3 1401.0,195.4C1403.6,190.5 1405.9,187.5 1408.0,185.6C1410.1,183.7 1411.5,183.7 1413.6,184.2C1415.7,184.7 1418.1,186.5 1420.7,188.4C1423.3,190.3 1426.4,193.3 1429.1,195.4C1431.8,197.5 1434.5,198.9 1437.0,201.1C1439.5,203.3 1441.0,206.0 1444.1,208.7C1447.2,211.4 1451.7,214.0 1455.4,217.1C1459.2,220.2 1463.3,223.9 1466.6,227.0C1469.9,230.1 1472.3,232.1 1475.1,235.4C1477.9,238.7 1480.5,242.8 1483.5,246.7C1486.5,250.5 1490.3,254.8 1493.4,258.5C1496.5,262.2 1499.1,265.8 1501.9,269.0C1504.7,272.2 1507.5,274.5 1510.3,277.5C1513.1,280.5 1516.0,284.0 1518.8,287.0C1521.6,290.0 1523.7,292.6 1527.2,295.4C1530.7,298.2 1535.7,301.5 1539.9,303.9C1544.1,306.3 1548.4,308.3 1552.6,309.8C1556.8,311.3 1561.1,312.2 1565.3,313.0C1569.5,313.8 1572.4,313.8 1578.0,314.8C1583.6,315.8 1592.2,318.2 1598.8,319.2C1605.4,320.2 1611.3,320.9 1617.6,321.0C1623.8,321.1 1630.0,320.2 1636.3,319.7C1642.5,319.2 1648.8,318.6 1655.1,318.2C1661.4,317.8 1666.4,317.7 1673.9,317.3C1681.4,316.9 1695.7,316.1 1700.0,315.8" stroke="#ff0000"/>
<path d="M1279.8,74.5C1280.3,74.9 1281.5,76.6 1282.6,76.7C1283.7,76.8 1285.0,74.9 1286.3,75.0C1287.5,75.1 1288.7,76.5 1290.1,77.5C1291.5,78.5 1293.2,79.9 1294.8,81.0C1296.4,82.1 1298.2,83.6 1299.5,84.3C1300.8,85.0 1301.6,84.0 1302.5,85.2C1303.4,86.4 1304.4,89.2 1305.0,91.2C1305.6,93.2 1305.7,94.9 1306.1,97.5C1306.5,100.1 1306.9,103.0 1307.3,106.9C1307.7,110.8 1308.1,115.8 1308.5,120.9C1308.9,126.0 1309.1,130.8 1309.6,137.3C1310.1,143.8 1310.6,152.5 1311.3,159.8C1312.0,167.1 1312.5,174.4 1313.6,181.3C1314.7,188.2 1316.1,196.2 1317.8,201.1C1319.5,206.0 1321.8,209.5 1323.5,210.9C1325.2,212.3 1326.1,212.1 1327.7,209.5C1329.3,206.9 1331.2,201.5 1333.3,195.4C1335.4,189.3 1338.1,179.5 1340.4,172.9C1342.8,166.3 1345.5,158.9 1347.4,156.0C1349.3,153.1 1350.2,154.5 1351.6,155.4C1353.0,156.3 1354.2,157.3 1355.9,161.6C1357.6,165.9 1359.6,175.2 1361.5,181.3C1363.4,187.4 1365.0,192.6 1367.1,198.2C1369.2,203.8 1372.1,209.5 1374.2,215.1C1376.3,220.7 1378.2,227.3 1379.8,232.0C1381.4,236.7 1382.3,239.0 1384.0,243.0C1385.7,247.0 1387.4,252.4 1389.7,256.0C1392.0,259.6 1395.3,263.2 1398.1,264.4C1400.9,265.6 1403.3,264.2 1406.6,263.0C1409.9,261.8 1414.0,259.0 1417.8,257.4C1421.5,255.8 1425.2,254.5 1429.1,253.2C1433.0,251.9 1436.9,250.1 1441.3,249.5C1445.7,248.9 1452.0,249.2 1455.4,249.5C1458.8,249.8 1459.4,250.2 1461.7,251.1C1464.0,252.0 1465.7,252.6 1469.4,255.1C1473.1,257.6 1479.3,262.7 1484.0,266.0C1488.7,269.3 1493.0,272.5 1497.6,274.9C1502.2,277.3 1506.4,278.5 1511.7,280.5C1517.0,282.5 1523.9,285.0 1529.3,287.0C1534.7,289.0 1539.5,290.7 1544.1,292.3C1548.7,293.9 1552.6,295.3 1556.8,296.5C1561.0,297.7 1565.6,299.0 1569.5,299.7C1573.4,300.4 1575.1,300.1 1580.0,300.8C1584.9,301.5 1592.5,302.6 1598.8,303.6C1605.1,304.6 1611.3,306.0 1617.6,306.6C1623.8,307.2 1630.0,307.4 1636.3,307.3C1642.5,307.2 1648.8,306.4 1655.1,306.0C1661.4,305.6 1666.4,305.1 1673.9,305.1C1681.4,305.1 1695.7,305.9 1700.0,306.0" stroke="#0000ff"/>
<path d="M1279.8,41.0C1280.3,41.6 1281.5,43.2 1282.6,44.8C1283.7,46.4 1285.2,48.0 1286.3,50.4C1287.4,52.8 1288.2,55.3 1289.2,58.9C1290.2,62.5 1291.2,68.2 1292.0,72.0C1292.8,75.8 1293.3,78.7 1293.9,81.4C1294.5,84.2 1294.9,84.2 1295.6,88.5C1296.3,92.8 1297.1,99.9 1297.9,106.9C1298.7,113.9 1299.7,123.3 1300.3,130.3C1300.9,137.3 1301.1,143.5 1301.6,149.1C1302.1,154.7 1302.7,158.5 1303.2,164.0C1303.7,169.5 1304.1,175.3 1304.7,182.0C1305.3,188.7 1305.6,196.7 1306.6,203.9C1307.6,211.1 1309.4,220.1 1310.8,225.0C1312.2,229.9 1313.1,230.9 1315.0,233.5C1316.9,236.1 1319.0,238.9 1322.1,240.5C1325.1,242.1 1329.1,242.5 1333.3,243.3C1337.5,244.1 1342.7,244.4 1347.4,245.3C1352.1,246.2 1356.8,247.7 1361.5,248.9C1366.2,250.1 1370.9,251.7 1375.6,252.3C1380.3,252.9 1385.0,252.6 1389.7,252.3C1394.4,252.0 1399.1,250.7 1403.8,250.4C1408.5,250.1 1413.4,250.2 1417.8,250.4C1422.2,250.6 1425.6,251.9 1430.0,251.8C1434.4,251.8 1439.4,250.2 1444.1,250.1C1448.8,249.9 1453.5,250.2 1458.2,250.9C1462.9,251.6 1467.6,253.2 1472.3,254.5C1477.0,255.8 1481.6,257.5 1486.3,259.0C1491.0,260.5 1496.4,262.3 1500.4,263.6C1504.4,264.9 1506.2,264.9 1510.3,266.9C1514.4,268.9 1520.2,272.6 1525.1,275.4C1530.0,278.2 1535.3,281.5 1539.9,283.8C1544.5,286.1 1548.4,287.5 1552.6,289.1C1556.8,290.7 1561.1,292.1 1565.3,293.3C1569.5,294.5 1572.4,295.2 1578.0,296.1C1583.6,297.0 1592.2,297.9 1598.8,298.5C1605.4,299.1 1611.3,299.4 1617.6,299.8C1623.8,300.2 1630.0,300.4 1636.3,300.9C1642.5,301.4 1648.8,301.9 1655.1,302.8C1661.4,303.7 1666.4,304.7 1673.9,306.0C1681.4,307.3 1695.7,309.8 1700.0,310.5" stroke="#ff00ff"/>
</g>
<rect x="1279.9" y="13.1" width="418.5999999999999" height="341.59999999999997" fill="none" stroke="#000" stroke-width="3.8" stroke-linejoin="round"/>
<g stroke="#000" stroke-width="3.8" stroke-linecap="round"><line x1="1275.1" y1="354.6" x2="1279.9" y2="354.6"/><line x1="1272.4" y1="323.6" x2="1279.9" y2="323.6"/><line x1="1275.1" y1="292.6" x2="1279.9" y2="292.6"/><line x1="1272.4" y1="261.5" x2="1279.9" y2="261.5"/><line x1="1275.1" y1="230.4" x2="1279.9" y2="230.4"/><line x1="1272.4" y1="199.4" x2="1279.9" y2="199.4"/><line x1="1275.1" y1="168.4" x2="1279.9" y2="168.4"/><line x1="1272.4" y1="137.3" x2="1279.9" y2="137.3"/><line x1="1275.1" y1="106.2" x2="1279.9" y2="106.2"/><line x1="1272.4" y1="75.2" x2="1279.9" y2="75.2"/><line x1="1275.1" y1="44.1" x2="1279.9" y2="44.1"/><line x1="1272.4" y1="13.1" x2="1279.9" y2="13.1"/><line x1="1279.9" y1="354.7" x2="1279.9" y2="359.5"/><line x1="1318.0" y1="354.7" x2="1318.0" y2="362.7"/><line x1="1356.0" y1="354.7" x2="1356.0" y2="359.5"/><line x1="1394.1" y1="354.7" x2="1394.1" y2="362.7"/><line x1="1432.1" y1="354.7" x2="1432.1" y2="359.5"/><line x1="1470.2" y1="354.7" x2="1470.2" y2="362.7"/><line x1="1508.2" y1="354.7" x2="1508.2" y2="359.5"/><line x1="1546.3" y1="354.7" x2="1546.3" y2="362.7"/><line x1="1584.3" y1="354.7" x2="1584.3" y2="359.5"/><line x1="1622.4" y1="354.7" x2="1622.4" y2="362.7"/><line x1="1660.4" y1="354.7" x2="1660.4" y2="359.5"/><line x1="1698.5" y1="354.7" x2="1698.5" y2="362.7"/></g>
<text x="1268.6" y="330.8" text-anchor="end" style="font-family:'Liberation Serif','Times New Roman',serif;font-weight:bold;stroke:#000;stroke-width:0.35px;font-size:25.5px">0.2</text>
<text x="1268.6" y="268.7" text-anchor="end" style="font-family:'Liberation Serif','Times New Roman',serif;font-weight:bold;stroke:#000;stroke-width:0.35px;font-size:25.5px">0.4</text>
<text x="1268.6" y="206.6" text-anchor="end" style="font-family:'Liberation Serif','Times New Roman',serif;font-weight:bold;stroke:#000;stroke-width:0.35px;font-size:25.5px">0.6</text>
<text x="1268.6" y="144.5" text-anchor="end" style="font-family:'Liberation Serif','Times New Roman',serif;font-weight:bold;stroke:#000;stroke-width:0.35px;font-size:25.5px">0.8</text>
<text x="1268.6" y="82.4" text-anchor="end" style="font-family:'Liberation Serif','Times New Roman',serif;font-weight:bold;stroke:#000;stroke-width:0.35px;font-size:25.5px">1.0</text>
<text x="1268.6" y="20.3" text-anchor="end" style="font-family:'Liberation Serif','Times New Roman',serif;font-weight:bold;stroke:#000;stroke-width:0.35px;font-size:25.5px">1.2</text>
<text x="1318.0" y="385.3" text-anchor="middle" style="font-family:'Liberation Serif','Times New Roman',serif;font-weight:bold;stroke:#000;stroke-width:0.35px;font-size:25.5px">400</text>
<text x="1394.1" y="385.3" text-anchor="middle" style="font-family:'Liberation Serif','Times New Roman',serif;font-weight:bold;stroke:#000;stroke-width:0.35px;font-size:25.5px">500</text>
<text x="1470.2" y="385.3" text-anchor="middle" style="font-family:'Liberation Serif','Times New Roman',serif;font-weight:bold;stroke:#000;stroke-width:0.35px;font-size:25.5px">600</text>
<text x="1546.3" y="385.3" text-anchor="middle" style="font-family:'Liberation Serif','Times New Roman',serif;font-weight:bold;stroke:#000;stroke-width:0.35px;font-size:25.5px">700</text>
<text x="1622.4" y="385.3" text-anchor="middle" style="font-family:'Liberation Serif','Times New Roman',serif;font-weight:bold;stroke:#000;stroke-width:0.35px;font-size:25.5px">800</text>
<text x="1698.5" y="385.3" text-anchor="middle" style="font-family:'Liberation Serif','Times New Roman',serif;font-weight:bold;stroke:#000;stroke-width:0.35px;font-size:25.5px">900</text>
<text x="1371.8" y="413.9" style="font-family:'Liberation Serif','Times New Roman',serif;font-weight:bold;stroke:#000;stroke-width:0.35px;font-size:25.5px" textLength="180.5" lengthAdjust="spacingAndGlyphs">Wavelength(nm)</text>
<text transform="translate(1217.3,288.3) rotate(-90)" x="0" y="0" style="font-family:'Liberation Serif','Times New Roman',serif;font-weight:bold;stroke:#000;stroke-width:0.35px;font-size:25.5px" textLength="197.5" lengthAdjust="spacingAndGlyphs">Absorptance(a.u.)</text>
<text transform="translate(1321.1,57.1) scale(1,0.92)" x="0" y="0" style="font-family:'Liberation Serif','Times New Roman',serif;font-weight:bold;stroke:#000;stroke-width:0.35px;font-size:34px">(c)</text>
<line x1="1552.5" y1="67.6" x2="1586.2" y2="67.6" stroke="#000000" stroke-width="4.4" stroke-linecap="round"/>
<text x="1591.1" y="73.6" style="font-family:'Liberation Serif','Times New Roman',serif;font-weight:bold;stroke:#000;stroke-width:0.35px;font-size:19.5px" textLength="80.5" lengthAdjust="spacingAndGlyphs">D=200nm</text>
<line x1="1552.5" y1="92.2" x2="1586.2" y2="92.2" stroke="#ff0000" stroke-width="4.4" stroke-linecap="round"/>
<text x="1591.1" y="98.2" style="font-family:'Liberation Serif','Times New Roman',serif;font-weight:bold;stroke:#000;stroke-width:0.35px;font-size:19.5px" textLength="80.5" lengthAdjust="spacingAndGlyphs">D=300nm</text>
<line x1="1552.5" y1="116.9" x2="1586.2" y2="116.9" stroke="#0000ff" stroke-width="4.4" stroke-linecap="round"/>
<text x="1591.1" y="122.9" style="font-family:'Liberation Serif','Times New Roman',serif;font-weight:bold;stroke:#000;stroke-width:0.35px;font-size:19.5px" textLength="80.5" lengthAdjust="spacingAndGlyphs">D=400nm</text>
<line x1="1552.5" y1="141.5" x2="1586.2" y2="141.5" stroke="#ff00ff" stroke-width="4.4" stroke-linecap="round"/>
<text x="1591.1" y="147.5" style="font-family:'Liberation Serif','Times New Roman',serif;font-weight:bold;stroke:#000;stroke-width:0.35px;font-size:19.5px" textLength="80.5" lengthAdjust="spacingAndGlyphs">D=500nm</text>
</svg></body></html>
